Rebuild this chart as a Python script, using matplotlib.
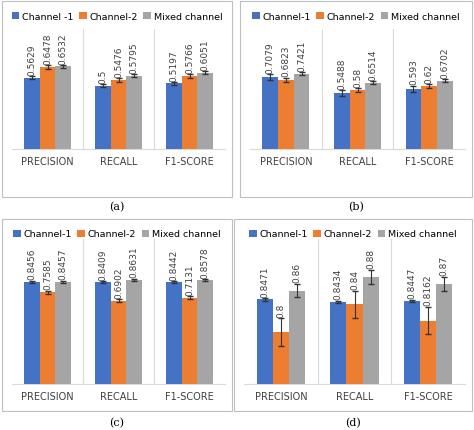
import matplotlib
matplotlib.use("Agg")
import matplotlib.pyplot as plt
from matplotlib.patches import Rectangle
import numpy as np

categories = ["PRECISION", "RECALL", "F1-SCORE"]
colors = ["#4472C4", "#ED7D31", "#A5A5A5"]
panels = [
    dict(label="(a)", series=["Channel -1", "Channel-2", "Mixed channel"],
         values=[[0.5629, 0.5, 0.5197], [0.6478, 0.5476, 0.5766], [0.6532, 0.5795, 0.6051]],
         errs=[[0.012, 0.012, 0.012], [0.015, 0.015, 0.015], [0.012, 0.012, 0.012]],
         ylim=(0, 0.95)),
    dict(label="(b)", series=["Channel-1", "Channel-2", "Mixed channel"],
         values=[[0.7079, 0.5488, 0.593], [0.6823, 0.58, 0.62], [0.7421, 0.6514, 0.6702]],
         errs=[[0.03, 0.03, 0.03], [0.02, 0.02, 0.02], [0.015, 0.015, 0.015]],
         ylim=(0, 1.18)),
    dict(label="(c)", series=["Channel-1", "Channel-2", "Mixed channel"],
         values=[[0.8456, 0.8409, 0.8442], [0.7585, 0.6902, 0.7131], [0.8457, 0.8631, 0.8578]],
         errs=[[0.008, 0.008, 0.008], [0.012, 0.012, 0.012], [0.008, 0.008, 0.008]],
         ylim=(0, 1.2)),
    dict(label="(d)", series=["Channel-1", "Channel-2", "Mixed channel"],
         values=[[0.8471, 0.8434, 0.8447], [0.8, 0.84, 0.8162], [0.86, 0.88, 0.87]],
         errs=[[0.002, 0.002, 0.002], [0.02, 0.02, 0.02], [0.01, 0.01, 0.01]],
         ylim=(0.724, 0.935)),
]

W, H = 474, 431
fig = plt.figure(figsize=(W / 100, H / 100), dpi=100)
boxes = [(2, 2, 232, 198), (240, 2, 472, 198), (2, 220, 232, 412), (234, 220, 472, 412)]
axes_px = [(12, 30, 225, 150), (250, 30, 465, 150), (12, 240, 225, 385), (244, 240, 465, 385)]
cap_y = [207, 207, 423, 423]

for p, b, a, cy in zip(panels, boxes, axes_px, cap_y):
    fig.patches.append(Rectangle((b[0] / W, 1 - b[3] / H), (b[2] - b[0]) / W, (b[3] - b[1]) / H,
                                 transform=fig.transFigure, fill=False, ec="#BFBFBF", lw=0.8))
    ax = fig.add_axes([a[0] / W, 1 - a[3] / H, (a[2] - a[0]) / W, (a[3] - a[1]) / H])
    x = np.arange(3)
    w = 0.22
    for i in range(3):
        ax.bar(x + (i - 1) * w, p["values"][i], w, color=colors[i], label=p["series"][i],
               yerr=p["errs"][i], capsize=2, error_kw=dict(lw=0.8, ecolor="#333333"), zorder=3)
        for xi, v, e in zip(x + (i - 1) * w, p["values"][i], p["errs"][i]):
            ax.text(xi, v + e + (p["ylim"][1] - p["ylim"][0]) * 0.01, str(v), rotation=90,
                    ha="center", va="bottom", fontsize=6.5, color="#404040")
    ax.set_ylim(*p["ylim"])
    ax.set_xlim(-0.5, 2.5)
    ax.set_xticks(x)
    ax.set_xticklabels(categories, fontsize=7, color="#404040")
    ax.tick_params(axis="x", length=0, pad=5)
    ax.set_yticks([])
    for s in ["top", "right", "left"]:
        ax.spines[s].set_visible(False)
    ax.spines["bottom"].set_color("#D9D9D9")
    for xv in [0.5, 1.5]:
        ax.axvline(xv, color="#D9D9D9", lw=0.8)
    fig.legend(*ax.get_legend_handles_labels(), loc="center",
               bbox_to_anchor=(((b[0] + b[2]) / 2) / W, 1 - (b[1] + 15) / H),
               ncol=3, frameon=False, fontsize=6.8, handlelength=0.8, handleheight=0.8,
               columnspacing=0.6, handletextpad=0.3, borderpad=0)
    fig.text(((b[0] + b[2]) / 2) / W, 1 - cy / H, p["label"], ha="center", va="center",
             fontsize=8, family="DejaVu Serif")

fig.savefig("out.png", dpi=100)
